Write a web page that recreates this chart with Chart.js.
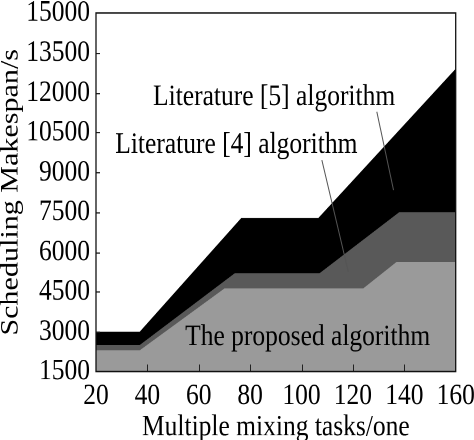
<!DOCTYPE html>
<html lang="en">
<head>
    <meta charset="UTF-8">
    <title>Scheduling Makespan</title>
    <script src="https://cdn.jsdelivr.net/npm/chart.js"></script>
    <style>
        html, body {
            margin: 0;
            padding: 0;
            background: #fff;
        }
        .frame {
            width: 474px;
            height: 440px;
            overflow: hidden;
        }
        /* the original figure is stretched vertically, so draw short and stretch */
        #makespanChart {
            display: block;
            transform: scaleY(1.1796);
            transform-origin: 0 0;
        }
    </style>
</head>
<body>
    <div class="frame">
        <canvas id="makespanChart" width="474" height="373"></canvas>
    </div>

    <script>
        // tasks where each curve bends, and the makespan (s) there
        const proposedTasks = [20, 37, 70, 124, 137, 160];
        const proposedMakespan = [2300, 2300, 4630, 4630, 5630, 5630];
        const lit4Tasks = [20, 37, 74, 107, 138, 160];
        const lit4Makespan = [2500, 2500, 5200, 5200, 7500, 7500];
        const lit5Tasks = [20, 37, 76.5, 106.5, 160];
        const lit5Makespan = [3000, 3000, 7280, 7280, 12900];

        const seriesNames = ['The proposed algorithm', 'Literature [4] algorithm', 'Literature [5] algorithm'];
        const xTicks = [20, 40, 60, 80, 100, 120, 140, 160];
        const yTicks = [1500, 3000, 4500, 6000, 7500, 9000, 10500, 12000, 13500, 15000];

        const SERIF = '"Liberation Serif", "Times New Roman", serif';
        const FONT_SIZE = 25.5;

        // where the in-plot labels sit (data coords) and their leader lines
        const labelSpots = [
            { text: seriesNames[2], x: 42.2, y: 11536, line: [129.3, 11283, 135.8, 8335] },
            { text: seriesNames[1], x: 27.5, y: 9729, line: [107.9, 9464, 118.2, 5258] },
            { text: seriesNames[0], x: 54.7, y: 2499 }
        ];

        const toPoints = (xs, ys) => xs.map((x, i) => ({ x: x, y: ys[i] }));

        const frameAndLabels = {
            id: 'frameAndLabels',
            afterDatasetsDraw(chart) {
                const { ctx, chartArea: a, scales: { x, y } } = chart;
                ctx.save();

                // leader lines
                ctx.strokeStyle = '#555';
                ctx.lineWidth = 1;
                labelSpots.forEach(s => {
                    if (!s.line) return;
                    ctx.beginPath();
                    ctx.moveTo(x.getPixelForValue(s.line[0]), y.getPixelForValue(s.line[1]));
                    ctx.lineTo(x.getPixelForValue(s.line[2]), y.getPixelForValue(s.line[3]));
                    ctx.stroke();
                });

                // labels
                ctx.fillStyle = '#000';
                ctx.font = FONT_SIZE + 'px ' + SERIF;
                ctx.textAlign = 'left';
                ctx.textBaseline = 'alphabetic';
                labelSpots.forEach(s => {
                    ctx.fillText(s.text, x.getPixelForValue(s.x), y.getPixelForValue(s.y));
                });

                // inward tick marks
                ctx.strokeStyle = '#222';
                ctx.beginPath();
                xTicks.slice(1, -1).forEach(v => {
                    const px = Math.round(x.getPixelForValue(v)) + 0.5;
                    ctx.moveTo(px, a.bottom);
                    ctx.lineTo(px, a.bottom - 6);
                });
                yTicks.slice(1, -1).forEach(v => {
                    const py = Math.round(y.getPixelForValue(v)) + 0.5;
                    ctx.moveTo(a.left, py);
                    ctx.lineTo(a.left + 4, py);
                });
                ctx.stroke();

                // box round the plot
                ctx.strokeStyle = '#111';
                ctx.lineWidth = 1.3;
                ctx.strokeRect(a.left, a.top, a.right - a.left, a.bottom - a.top);
                ctx.restore();
            }
        };

        new Chart(document.getElementById('makespanChart'), {
            type: 'line',
            data: {
                datasets: [
                    {
                        label: seriesNames[0],
                        data: toPoints(proposedTasks, proposedMakespan),
                        backgroundColor: '#9a9a9a',
                        fill: 'start'
                    },
                    {
                        label: seriesNames[1],
                        data: toPoints(lit4Tasks, lit4Makespan),
                        backgroundColor: '#595959',
                        fill: 'start'
                    },
                    {
                        label: seriesNames[2],
                        data: toPoints(lit5Tasks, lit5Makespan),
                        backgroundColor: '#000000',
                        fill: 'start'
                    }
                ]
            },
            options: {
                responsive: false,
                devicePixelRatio: 2,
                animation: false,
                elements: {
                    line: { borderWidth: 0, tension: 0 },
                    point: { radius: 0 }
                },
                layout: { padding: 0 },
                plugins: {
                    legend: { display: false },
                    tooltip: { enabled: false }
                },
                scales: {
                    x: {
                        type: 'linear',
                        min: 20,
                        max: 160,
                        afterBuildTicks: s => { s.ticks = xTicks.map(v => ({ value: v })); },
                        afterFit: s => {
                            s.height = 58;
                            s.paddingLeft = 0;
                            s.paddingRight = 18.3;
                        },
                        grid: { display: false, drawTicks: false },
                        border: { display: false },
                        ticks: {
                            color: '#000',
                            padding: 8,
                            maxRotation: 0,
                            callback: v => String(v),
                            font: { family: SERIF, size: FONT_SIZE, lineHeight: 1 }
                        },
                        title: {
                            display: true,
                            text: 'Multiple mixing tasks/one',
                            color: '#000',
                            padding: { top: 0, bottom: -1.9 },
                            font: { family: SERIF, size: FONT_SIZE, lineHeight: 1 }
                        }
                    },
                    y: {
                        min: 1500,
                        max: 15000,
                        afterBuildTicks: s => { s.ticks = yTicks.map(v => ({ value: v })); },
                        afterFit: s => {
                            s.width = 96;
                            s.paddingTop = 11;
                            s.paddingBottom = 0;
                        },
                        grid: { display: false, drawTicks: false },
                        border: { display: false },
                        ticks: {
                            color: '#000',
                            padding: 6,
                            callback: v => String(v),
                            font: { family: SERIF, size: FONT_SIZE, lineHeight: 1 }
                        },
                        title: {
                            display: true,
                            text: 'Scheduling Makespan/s',
                            color: '#000',
                            padding: { top: -2, bottom: 0 },
                            font: { family: SERIF, size: FONT_SIZE, lineHeight: 1 }
                        }
                    }
                }
            },
            plugins: [frameAndLabels]
        });
    </script>
</body>
</html>
